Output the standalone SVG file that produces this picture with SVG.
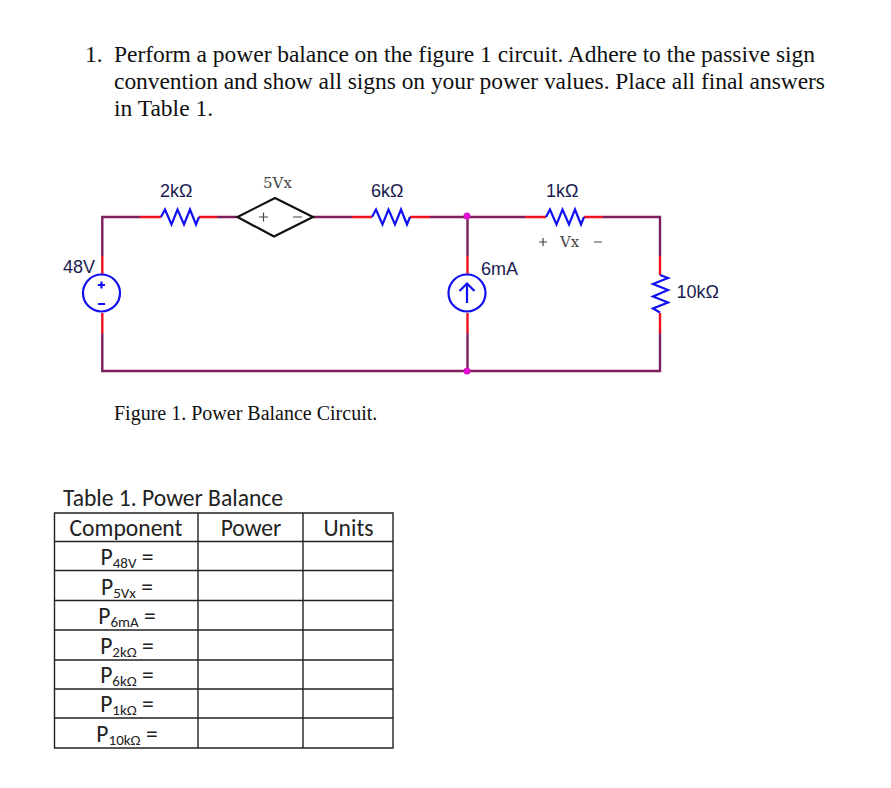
<svg xmlns="http://www.w3.org/2000/svg" width="891" height="788" viewBox="0 0 891 788">
<style>
.s{font-family:"Liberation Serif",serif;font-size:23.5px;fill:#111}
.c{font-family:"Liberation Sans",sans-serif;font-size:18px;fill:#1a1a50}
.m{font-family:"DejaVu Serif",serif;font-size:15px;fill:#444}
.t{font-family:Carlito,"Open Sans","Liberation Sans",sans-serif;font-size:23.6px;fill:#222}
.b{font-family:Carlito,"Open Sans","Liberation Sans",sans-serif;font-size:23.6px;fill:#222;text-anchor:middle}
.p{font-size:15px}
.w{fill:none;stroke:#7d1f5c;stroke-width:2.4}
.r{fill:none;stroke:#f01020;stroke-width:2.4}
.e{fill:none;stroke:#1010f0;stroke-width:2.2}
.g{fill:none;stroke:#222;stroke-width:1.4}
</style>
<g id="question">
<text class="s" x="85" y="62">1.</text>
<text class="s" x="114" y="62" textLength="701">Perform a power balance on the figure 1 circuit. Adhere to the passive sign</text>
<text class="s" x="114" y="89" textLength="711">convention and show all signs on your power values. Place all final answers</text>
<text class="s" x="114" y="116">in Table 1.</text>
</g>
<g id="connectors">
<path class="w" d="M140 217H102.300V256M102.300 333V371H660V333M660 256V217H603M525 217H430M352 217H313M237 217H217M467.500 217V256M467.500 333V371"/>
<path class="r" d="M140 217H161M199 217H217M352 217H372M410 217H430M525 217H546M584 217H603M102.300 256V275M102.300 313V333M467.500 256V275M467.500 313V333M660 256V275M660 313V333"/>
</g>
<g id="junction-top"><circle cx="467" cy="216" r="3.500" fill="#e010d0"/></g>
<g id="junction-bottom"><circle cx="467" cy="371" r="3.500" fill="#e010d0"/></g>
<g id="r2k"><path class="e" d="M161 217l4-7.500l6.500 15l6-15l6.500 15l6-15l6 15l3-7.500"/><text class="c" x="160" y="197">2kΩ</text></g>
<g id="r6k"><path class="e" d="M372 217l4-7.500l6.500 15l6-15l6.500 15l6-15l6 15l3-7.500"/><text class="c" x="371" y="197">6kΩ</text></g>
<g id="r1k"><path class="e" d="M546 217l4-7.500l6.500 15l6-15l6.500 15l6-15l6 15l3-7.500"/><text class="c" x="546" y="197">1kΩ</text></g>
<g id="r10k"><path class="e" d="M660 275l8 3l-15 6l15 6l-15 6.500l15 6l-15 6l7 4"/><text class="c" x="676.500" y="298">10kΩ</text></g>
<g id="vx"><path d="M539 242h8M543 238v8M594 242h8" fill="none" stroke="#444" stroke-width="1.200"/><text class="m" x="560" y="247">Vx</text></g>
<g id="v48"><circle class="e" cx="101.500" cy="293" r="18.500"/><path class="e" d="M98 285h7M101.500 281.500v7M98 304h7"/><text class="c" x="63" y="273">48V</text></g>
<g id="i6mA"><circle class="e" cx="467" cy="293" r="18.500"/><path class="e" d="M467 303V284M459.500 291l7.500-7.500l7.500 7.500"/><text class="c" x="481" y="275">6mA</text></g>
<g id="vcvs"><path d="M237.500 217L275 198L313 217L274 236.500Z" fill="#fff" stroke="#111" stroke-width="2.200"/><path d="M259 217h9M263.500 212.500v9M293 217h9" fill="none" stroke="#444" stroke-width="1.200"/><text class="m" x="263" y="188">5Vx</text></g>
<text class="s" x="114" y="420" style="font-size:20px">Figure 1. Power Balance Circuit.</text>
<text class="t" x="63" y="506">Table 1. Power Balance</text>
<g id="table">
<path class="g" d="M54.500 513H393V748H54.500ZM198 513V748M303 513V748M54.500 541.500H393M54.500 570.500H393M54.500 600.500H393M54.500 630H393M54.500 660H393M54.500 689H393M54.500 718H393"/>
<text class="b" x="126" y="536">Component</text>
<text class="b" x="251" y="536">Power</text>
<text class="b" x="348.500" y="536">Units</text>
<text class="b" x="127" y="565">P<tspan class="p" dy="3">48V</tspan><tspan dy="-3"> =</tspan></text>
<text class="b" x="127" y="595">P<tspan class="p" dy="3">5Vx</tspan><tspan dy="-3"> =</tspan></text>
<text class="b" x="127" y="624">P<tspan class="p" dy="3">6mA</tspan><tspan dy="-3"> =</tspan></text>
<text class="b" x="127" y="654">P<tspan class="p" dy="3">2kΩ</tspan><tspan dy="-3"> =</tspan></text>
<text class="b" x="127" y="683">P<tspan class="p" dy="3">6kΩ</tspan><tspan dy="-3"> =</tspan></text>
<text class="b" x="127" y="712">P<tspan class="p" dy="3">1kΩ</tspan><tspan dy="-3"> =</tspan></text>
<text class="b" x="127" y="742">P<tspan class="p" dy="3">10kΩ</tspan><tspan dy="-3"> =</tspan></text>
</g>
</svg>
